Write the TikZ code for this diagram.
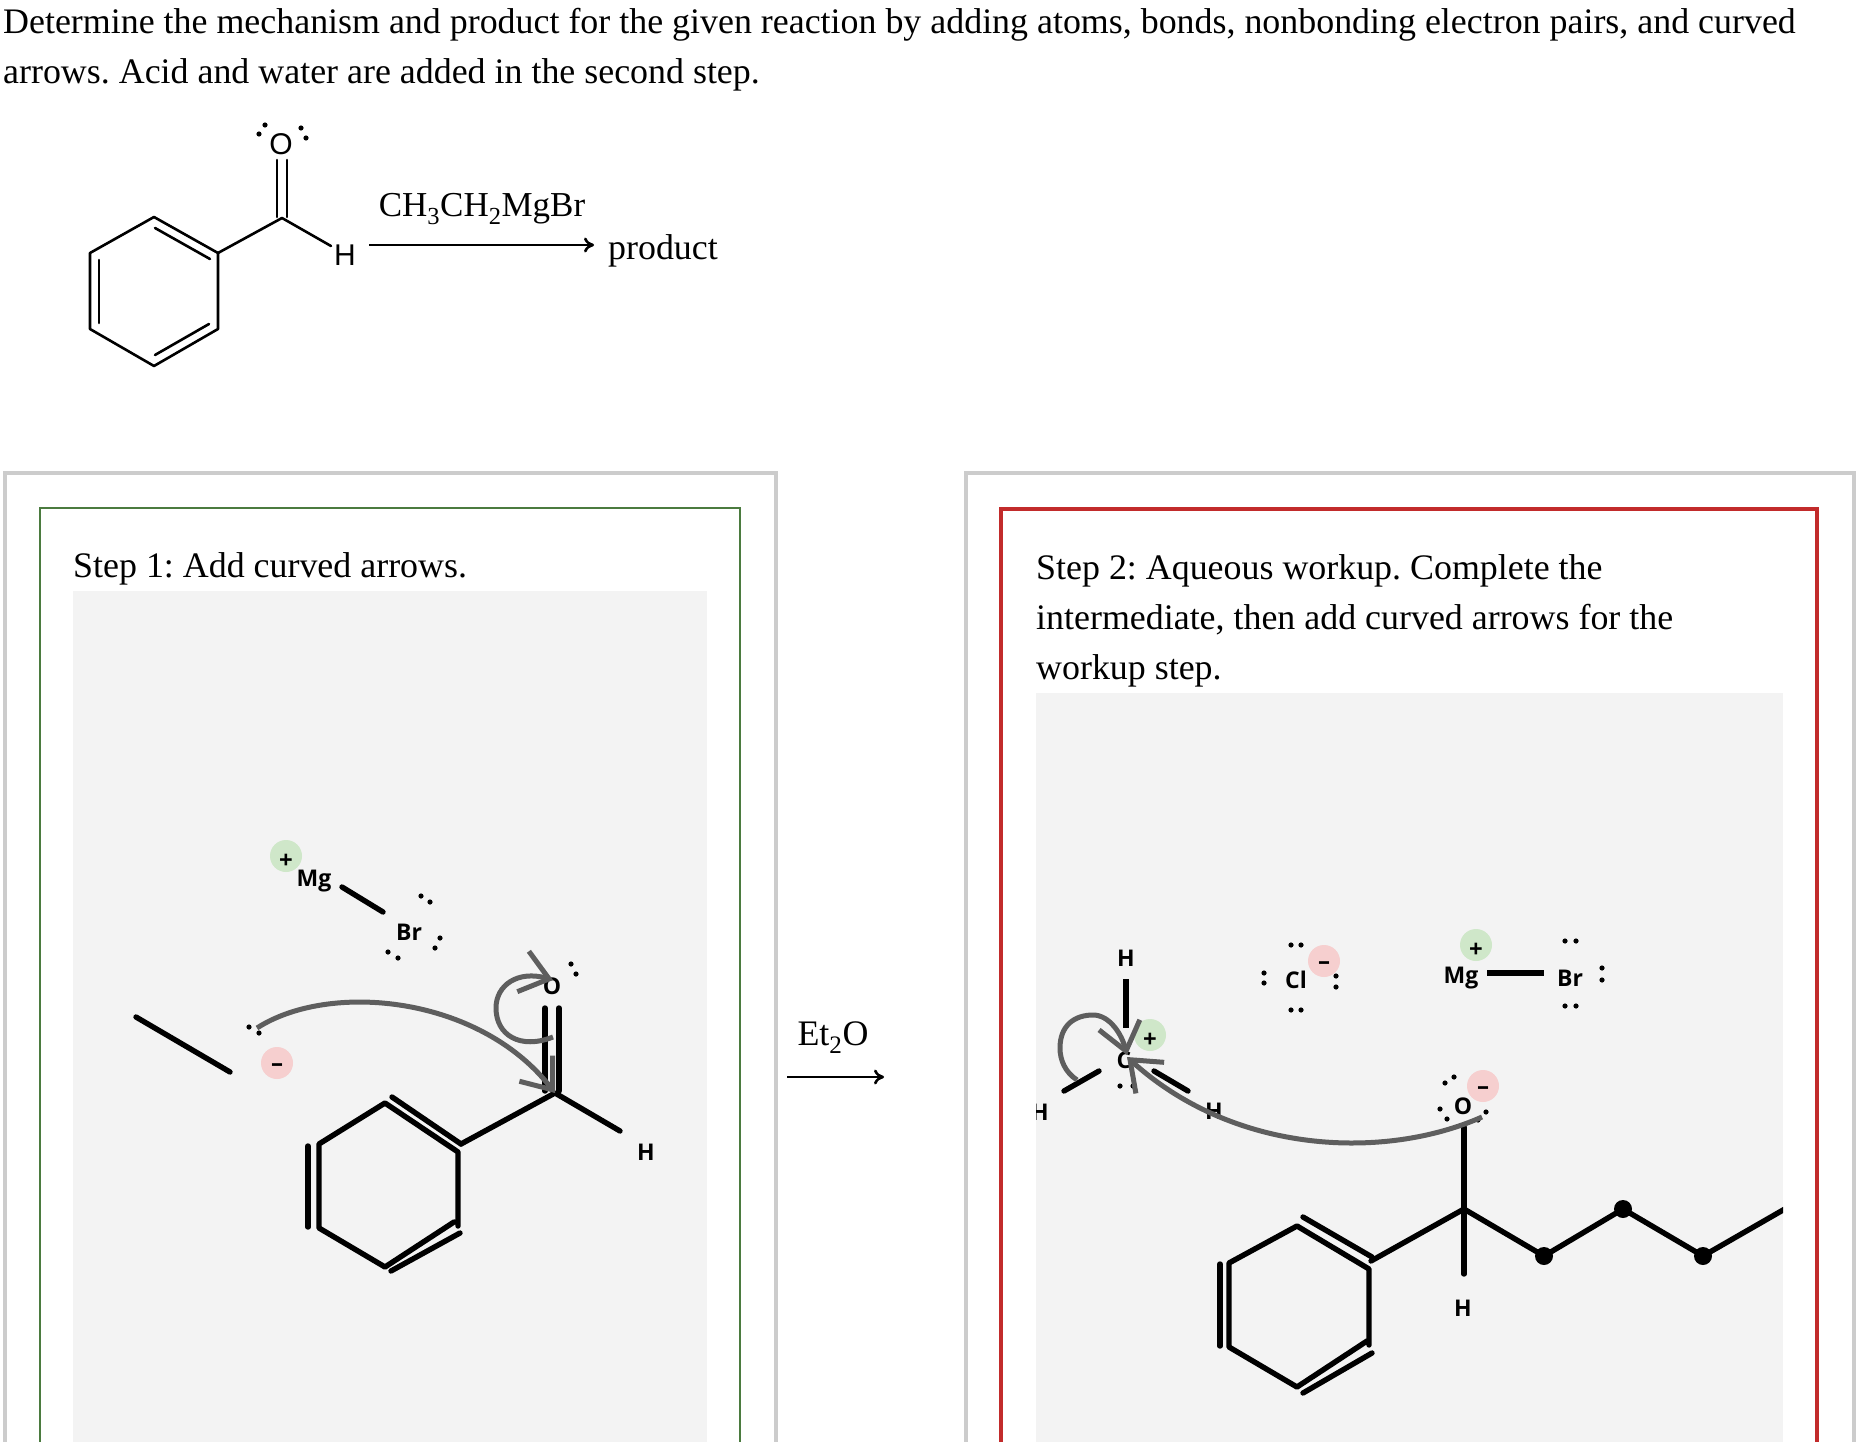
\documentclass[tikz,border=0pt]{standalone}
\usepackage{fontspec}
\setmainfont{Liberation Serif}
\newfontfamily\atomfont{Open Sans}
\newfontfamily\plainatom{Liberation Sans}
\usetikzlibrary{arrows.meta}
\frenchspacing
\definecolor{panelgray}{HTML}{F3F3F3}
\definecolor{framegray}{HTML}{CCCCCC}
\definecolor{framegreen}{HTML}{4B7B3F}
\definecolor{framered}{HTML}{C22B2B}
\definecolor{chargegreen}{HTML}{CFE7C9}
\definecolor{chargered}{HTML}{F6CFCF}
\definecolor{curvegray}{HTML}{5E5E5E}
\tikzset{
  body/.style={font=\fontsize{35.9}{50}\selectfont,inner sep=0pt},
  atom/.style={font=\atomfont\bfseries\fontsize{23}{23}\selectfont,inner sep=0pt},
  thinatom/.style={font=\plainatom\fontsize{30}{30}\selectfont,inner sep=0pt},
  sign/.style={font=\atomfont\bfseries\fontsize{24}{24}\selectfont,inner sep=0pt},
  bond/.style={line width=5.4pt,line cap=round,line join=round},
  thinbond/.style={line width=2.6pt,line cap=round,line join=round},
  curved/.style={curvegray,line width=5pt,-{Straight Barb[length=27pt,width=42pt]}},
  plain/.style={line width=2.6pt,-{To[length=10pt,width=15pt]}}
}
\begin{document}
\begin{tikzpicture}[x=1pt,y=-1pt]
  \useasboundingbox (0,0) rectangle (1856,1442);
  \clip (0,0) rectangle (1856,1442);
  % text
  \node[body,anchor=base west] (lineA) at (3,34) {Determine the mechanism and product for the given reaction by adding atoms, bonds, nonbonding electron pairs, and curved};
  \node[body,anchor=base west] (lineB) at (3,84) {arrows. Acid and water are added in the second step.};
  % reaction
  \coordinate (ra) at (154,217);
  \coordinate (rb) at (218,253);
  \coordinate (rc) at (218,329);
  \coordinate (rd) at (154,366);
  \coordinate (re) at (90,329);
  \coordinate (rf) at (90,253);
  \coordinate (rco) at (282,218);
  \draw[thinbond] (ra) -- (rb) -- (rc) -- (rd) -- (re) -- (rf) -- cycle;
  \draw[thinbond] (155,228) -- (210,259);
  \draw[thinbond] (99,260) -- (99,323);
  \draw[thinbond] (155,355) -- (209,324);
  \node[thinatom] (oxA) at (281,144) {O};
  \node[thinatom] (hyA) at (345,255) {H};
  \draw[thinbond] (rb) -- (rco) -- (331,246);
  \draw[thinbond] (277,160) -- (277,217);
  \draw[thinbond] (287,160) -- (287,217);
  \foreach \x/\y in {265/125,259/134,301/128,306/138}
    \fill (\x,\y) circle (2.6pt);
  \node[body,font=\fontsize{35}{35}\selectfont] (reagent) at (482,209) {CH\textsubscript{3}CH\textsubscript{2}MgBr};
  \node[body] (product) at (663,251) {product};
  \coordinate (arrowA) at (369,245);
  \coordinate (arrowB) at (594,245);
  \draw[plain] (arrowA) -- (arrowB);
  % left panel
  \draw[framegray,line width=3.5pt] (5,473) rectangle (776,1460);
  \draw[framegreen,line width=1.6pt] (40,508) rectangle (740,1460);
  \fill[panelgray] (73,591) rectangle (707,1460);
  \node[body,anchor=base west] (stepA) at (73,577) {Step 1: Add curved arrows.};
  \fill[chargegreen] (286,856) circle (16pt);
  \node[sign] (plusA) at (286,861) {+};
  \node[atom] (mgA) at (314,881) {Mg};
  \node[atom] (brA) at (409,932) {Br};
  \draw[bond] (342,887) -- (383,912);
  \foreach \x/\y in {421/896,430/902,440/938,435/948,388/952,398/958,571/964,576/974,249/1027,259/1033}
    \fill (\x,\y) circle (2.6pt);
  \draw[bond] (136,1017) -- (230,1072);
  \fill[chargered] (277,1063) circle (16pt);
  \node[sign] (minusA) at (277,1068) {–};
  \coordinate (ca) at (458,1152);
  \coordinate (cb) at (385,1103);
  \coordinate (cc) at (319,1144);
  \coordinate (cd) at (319,1228);
  \coordinate (ce) at (385,1267);
  \coordinate (cf) at (458,1226);
  \coordinate (cco) at (555,1093);
  \draw[bond] (cf) -- (ca) -- (cb) -- (cc) -- (cd) -- (ce) -- (454,1222);
  \draw[bond] (392,1097) -- (461,1144);
  \draw[bond] (308,1146) -- (308,1227);
  \draw[bond] (391,1271) -- (460,1233);
  \draw[bond] (461,1144) -- (cco) -- (620,1131);
  \draw[bond] (545,1008) -- (545,1091);
  \draw[bond] (559,1008) -- (559,1091);
  \node[atom] (oxB) at (552,986) {O};
  \node[atom] (hyB) at (646,1152) {H};
  \draw[curved] (257,1028) .. controls (330,981) and (480,996) .. (cco);
  \draw[curved] (553,1037) .. controls (520,1050) and (496,1035) .. (496,1008) .. controls (496,985) and (518,970) .. (553,980);
  % middle
  \node[body] (etO) at (833,1038) {Et\textsubscript{2}O};
  \coordinate (arrowC) at (787,1077);
  \coordinate (arrowD) at (884,1077);
  \draw[plain] (arrowC) -- (arrowD);
  % right panel
  \draw[framegray,line width=3.5pt] (966,473) rectangle (1854,1460);
  \draw[framered,line width=3.5pt] (1001,509) rectangle (1817,1460);
  \fill[panelgray] (1036,693) rectangle (1783,1460);
  \node[body,anchor=north west,align=left] (stepB) at (1036,554) {Step 2: Aqueous workup. Complete the\\intermediate, then add curved arrows for the\\workup step.};
  \begin{scope}
    \clip (1036,693) rectangle (1783,1442);
    \node[atom] (hyC) at (1126,958) {H};
    \draw[bond,line cap=butt] (1126,979) -- (1126,1028);
    \fill[chargegreen] (1150,1035) circle (16pt);
    \node[sign] (plusB) at (1150,1040) {+};
    \node[atom] (caC) at (1124,1060) {C};
    \draw[bond] (1064,1091) -- (1099,1071);
    \draw[bond] (1154,1071) -- (1188,1091);
    \node[atom] (hyD) at (1040,1112) {H};
    \node[atom] (hyE) at (1214,1111) {H};
    \foreach \x/\y in {1120/1086,1133/1086,1291/945,1301/945,1291/1010,1301/1010,1264/973,1264/983,1336/976,1336/987,1565/941,1576/941,1565/1006,1576/1006,1602/968,1602/980,1454/1077,1445/1083,1440/1109,1447/1119,1486/1112,1478/1120}
      \fill (\x,\y) circle (2.6pt);
    \fill[chargered] (1324,961) circle (16pt);
    \node[sign] (minusB) at (1324,966) {–};
    \node[atom] (clA) at (1296,980) {Cl};
    \fill[chargegreen] (1476,945) circle (16pt);
    \node[sign] (plusC) at (1476,950) {+};
    \node[atom] (mgB) at (1461,978) {Mg};
    \node[atom] (brB) at (1570,978) {Br};
    \draw[bond,line cap=butt] (1487,973) -- (1544,973);
    \fill[chargered] (1483,1086) circle (16pt);
    \node[sign] (minusC) at (1483,1091) {–};
    \node[atom] (oxC) at (1463,1106) {O};
    \coordinate (da) at (1369,1269);
    \coordinate (db) at (1297,1226);
    \coordinate (dc) at (1229,1263);
    \coordinate (dd) at (1229,1347);
    \coordinate (de) at (1297,1387);
    \coordinate (df) at (1369,1345);
    \coordinate (dq) at (1464,1209);
    \coordinate (ea) at (1544,1256);
    \coordinate (eb) at (1623,1209);
    \coordinate (ec) at (1703,1256);
    \coordinate (ed) at (1790,1206);
    \draw[bond] (df) -- (da) -- (db) -- (dc) -- (dd) -- (de) -- (1367,1341);
    \draw[bond] (1303,1217) -- (1372,1257);
    \draw[bond] (1220,1264) -- (1220,1346);
    \draw[bond] (1303,1393) -- (1372,1353);
    \draw[bond] (1371,1261) -- (dq) -- (ea) -- (eb) -- (ec) -- (ed);
    \draw[bond] (1464,1127) -- (dq) -- (1464,1274);
    \foreach \p in {ea,eb,ec}
      \fill (\p) circle (9pt);
    \node[atom] (hyF) at (1463,1308) {H};
    \draw[curved] (1482,1117) .. controls (1385,1160) and (1235,1155) .. (1127,1057);
    \draw[curved] (1077,1080) .. controls (1065,1072) and (1060,1060) .. (1060,1048) .. controls (1060,1025) and (1075,1015) .. (1093,1015) .. controls (1110,1015) and (1122,1035) .. (1127,1055);
  \end{scope}
\end{tikzpicture}
\end{document}
